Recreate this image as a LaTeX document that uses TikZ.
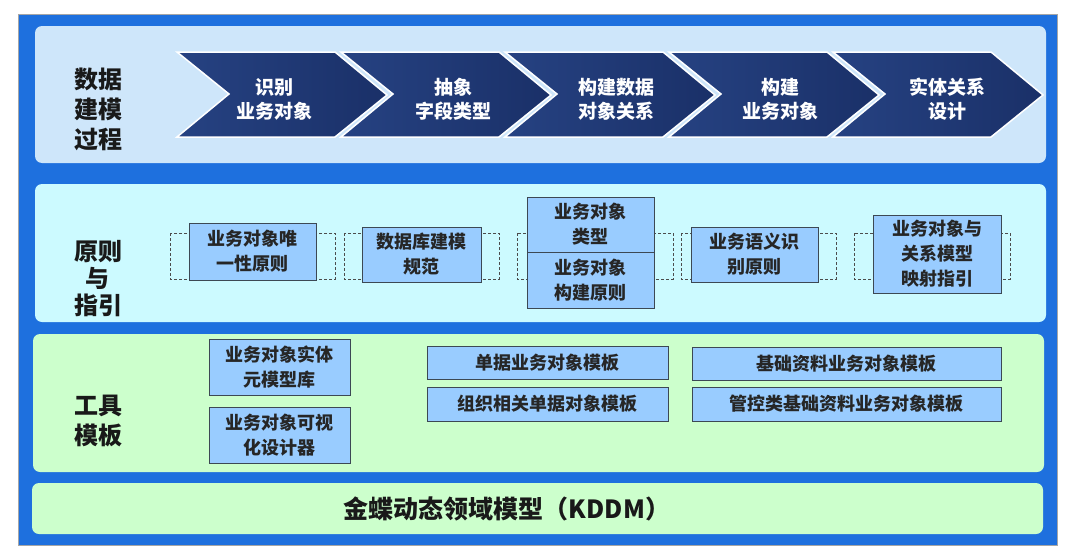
\documentclass[tikz,border=0pt]{standalone}
\usepackage{fontspec}
\setmainfont{Noto Sans CJK SC}
\usetikzlibrary{calc}

\definecolor{frameblue}{RGB}{30,112,222}
\definecolor{procbg}{RGB}{206,230,250}
\definecolor{rulebg}{RGB}{204,250,255}
\definecolor{toolbg}{RGB}{204,255,204}
\definecolor{boxfill}{RGB}{153,204,255}
\definecolor{boxline}{RGB}{60,72,84}
\definecolor{chevA}{RGB}{38,66,130}
\definecolor{chevB}{RGB}{58,92,160}
\definecolor{chevC}{RGB}{26,48,104}

\begin{document}
\begin{tikzpicture}[
  x=1pt,y=-1pt,
  % one pixel of the layout is one point; y runs downwards like the screen
  panel/.style={rounded corners=7pt,draw=none},
  chev/.style={left color=chevA,middle color=chevB,right color=chevC,
               draw=white,line width=1.5pt},
  chevtxt/.style={text=white,align=center,
                  font=\bfseries\fontsize{19}{24}\selectfont},
  rowlbl/.style={align=center,text=black!90,
                 font=\bfseries\fontsize{24}{30}\selectfont},
  box/.style={draw=boxline,fill=boxfill,line width=1pt,inner sep=0pt,
              align=center,text=black!85,
              font=\bfseries\fontsize{18}{25}\selectfont},
  dashbox/.style={draw=black!70,dash pattern=on 3pt off 2pt,line width=0.8pt},
]

\useasboundingbox (0,0) rectangle (1069,554);
\fill[white] (0,0) rectangle (1069,554);

%--- frame and the four bands ------------------------------------------------
\fill[frameblue] (18,14) rectangle (1057,545);
\draw[black!35,line width=0.6pt] (18,14) rectangle (1057,545);

\fill[panel,procbg] (35,26)  rectangle (1046,163);
\fill[panel,rulebg] (35,184) rectangle (1046,322);
\fill[panel,toolbg] (33,334) rectangle (1044,472);
\fill[panel,toolbg] (32,483) rectangle (1043,534);

%--- band 1: modelling process -----------------------------------------------
\node[rowlbl] (lblproc) at (98,109) {数据\\建模\\过程};

\def\chevtop{52}       % upper edge of the arrows
\def\chevbot{137}      % lower edge of the arrows
\foreach \i/\x/\tx/\txt in {1/177/274/{识别\\业务对象},
                            2/341/453/{抽象\\字段类型},
                            3/505/616/{构建数据\\对象关系},
                            4/669/780/{构建\\业务对象},
                            5/833/947/{实体关系\\设计}} {
  \path[chev] (\x,\chevtop) -- ++(158,0) -- ++(52,43) -- ++(-52,42)
              -- ++(-158,0) -- ++(52,-43) -- cycle;
  \node[chevtxt] (step\i) at (\tx,99) {\txt};
}

%--- band 2: principles and guides -------------------------------------------
\node[rowlbl,font=\bfseries\fontsize{24}{27}\selectfont] (lblrule) at (98,279) {原则\\与\\指引};

% dashed rails behind each principle
\foreach \xa/\xb in {170/335, 344/499, 517/673, 681/836, 854/1010}
  \draw[dashbox] (\xa,233) rectangle (\xb,279);

\node[box,minimum width=127pt,minimum height=57pt] (uniq)  at (252.5,251.5) {业务对象唯\\一性原则};
\node[box,minimum width=119pt,minimum height=55pt] (dbspec) at (421.5,254.5) {数据库建模\\规范};
\node[box,minimum width=127pt,minimum height=55pt] (botype) at (590.5,224.5) {业务对象\\类型};
\node[box,minimum width=127pt,minimum height=56pt] (bobuild) at (590.5,280) {业务对象\\构建原则};
\node[box,minimum width=127pt,minimum height=55pt] (semrec) at (754.5,254.5) {业务语义识\\别原则};
\node[box,minimum width=128pt,minimum height=78pt] (mapguide) at (937,254) {业务对象与\\关系模型\\映射指引};

%--- band 3: tools and templates ---------------------------------------------
\node[rowlbl,font=\bfseries\fontsize{24}{31}\selectfont] (lbltool) at (98,421) {工具\\模板};

\node[box,minimum width=141pt,minimum height=56pt] (metalib) at (279.5,367) {业务对象实体\\元模型库};
\node[box,minimum width=141pt,minimum height=56pt] (visdes) at (279.5,435) {业务对象可视\\化设计器};
\node[box,minimum width=241pt,minimum height=33pt] (billtpl) at (547.5,362.5) {单据业务对象模板};
\node[box,minimum width=241pt,minimum height=34pt] (orgtpl) at (547.5,404) {组织相关单据对象模板};
\node[box,minimum width=309pt,minimum height=33pt] (basetpl) at (846.5,363.5) {基础资料业务对象模板};
\node[box,minimum width=309pt,minimum height=34pt] (ctrltpl) at (846.5,404) {管控类基础资料业务对象模板};

%--- band 4: foundation ------------------------------------------------------
\node[text=black!90,font=\bfseries\fontsize{25}{30}\selectfont] (kddm) at (507,509) {金蝶动态领域模型（KDDM）};

\end{tikzpicture}
\end{document}
